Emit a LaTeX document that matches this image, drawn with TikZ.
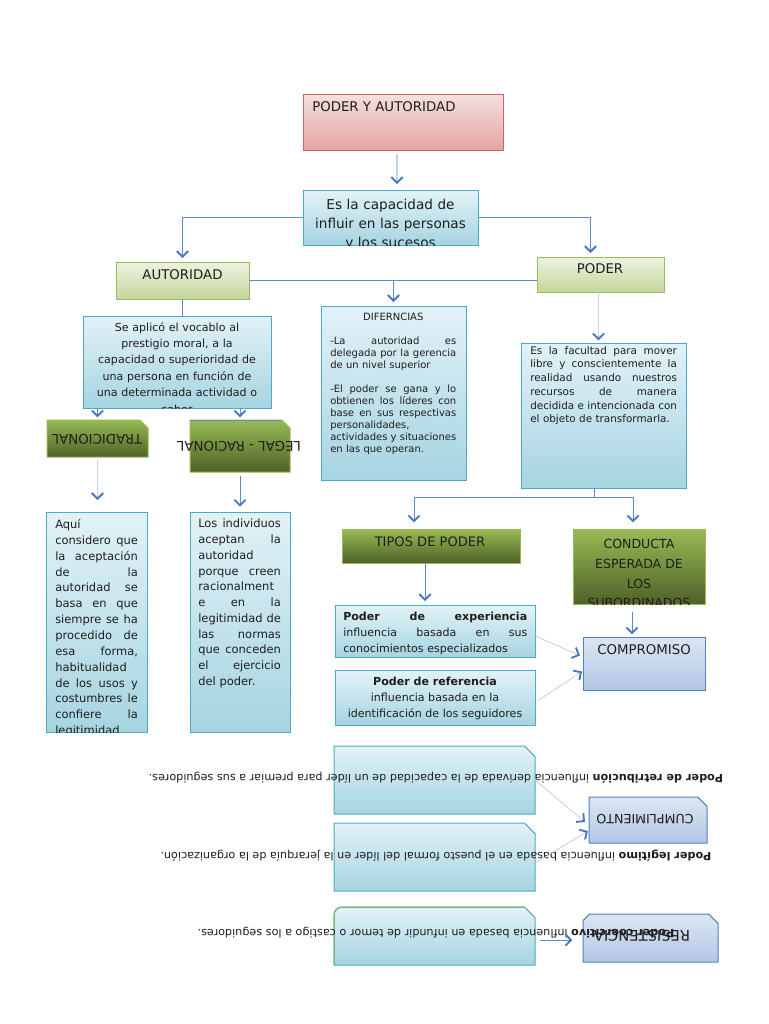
\documentclass[tikz,border=0pt]{standalone}
\usepackage{fontspec}
\setmainfont{DejaVu Sans}
\usetikzlibrary{arrows.meta,fit,shadows,calc}
\definecolor{lnblue}{HTML}{5E8AC7}
\definecolor{tipblue}{HTML}{4A78BE}
\definecolor{lightln}{HTML}{C3D3E9}
\definecolor{thinln}{HTML}{B4C6DC}
\definecolor{redT}{HTML}{F4E0DF}
\definecolor{redB}{HTML}{E3A4A2}
\definecolor{redD}{HTML}{CD6562}
\definecolor{cyT}{HTML}{E2F2F7}
\definecolor{cyB}{HTML}{A6D4E1}
\definecolor{cyD}{HTML}{4BACC6}
\definecolor{lgT}{HTML}{EEF3E2}
\definecolor{lgB}{HTML}{C3D69B}
\definecolor{lgD}{HTML}{9BBB59}
\definecolor{dgT}{HTML}{98BA55}
\definecolor{dgB}{HTML}{4F6228}
\definecolor{stT}{HTML}{DCE6F2}
\definecolor{stB}{HTML}{B3C6E5}
\definecolor{stD}{HTML}{4F81BD}
\definecolor{grn}{HTML}{77B255}
\definecolor{txt}{HTML}{1E1E1E}
\newlength\jw
\newcommand\J[1]{\makebox[\jw][s]{\spaceskip=.3em plus 1fil\relax #1}}
\newcommand\fs[2]{\fontsize{#1}{#2}\selectfont}
\newcommand\chamf[3]{\path[#2] (#1.south west) -- (#1.north west) -- ([xshift=-#3]#1.north east) -- ([yshift=-#3]#1.north east) -- (#1.south east) -- cycle;}
\tikzset{
 boxbase/.style={inner sep=0pt, outer sep=0pt, line width=0.75pt},
 holdbox/.style={inner sep=0pt, outer sep=0pt},
 redbox/.style={boxbase, top color=redT, bottom color=redB, draw=redD},
 cybox/.style={boxbase, top color=cyT, bottom color=cyB, draw=cyD},
 lgbox/.style={boxbase, top color=lgT, bottom color=lgB, draw=lgD},
 dgbox/.style={boxbase, top color=dgT, bottom color=dgB, draw=dgT},
 stbox/.style={boxbase, top color=stT, bottom color=stB, draw=stD},
 shd/.style={drop shadow={shadow xshift=1.1pt, shadow yshift=-1.1pt, fill=black, opacity=0.7}},
 lshd/.style={drop shadow={shadow xshift=0.6pt, shadow yshift=-0.8pt, fill=black, opacity=0.35}},
 conn/.style={draw=lnblue, line width=0.75pt},
 tipd/.style={-{Straight Barb[length=4.2pt,width=8.5pt,line width=1.4pt,color=tipblue]}},
 arr/.style={conn, tipd},
 larr/.style={draw=lightln, line width=0.9pt, tipd},
 tarr/.style={draw=thinln, line width=0.45pt, tipd},
 hdr/.style={font=\fs{10}{12}, inner sep=0pt},
 rot/.style={rotate=180, inner sep=0pt},
 para/.style={inner sep=0pt, align=left},
}
\begin{document}
\begin{tikzpicture}[x=0.75pt,y=-0.75pt, every node/.append style={text=txt}]
\useasboundingbox (0,0) rectangle (768,1024);
\fill[white] (0,0) rectangle (768,1024);

% ---------- boxes ----------
\node[redbox, fit={(303,95) (503,150)}] (pya) {};
\node[cybox, lshd, fit={(303,190) (478,245)}] (cap) {};
\node[lgbox, fit={(116,262) (249,299)}] (auto) {};
\node[lgbox, lshd, fit={(537,257) (664,292)}] (pod) {};
\node[cybox, fit={(83,316) (271,408)}] (sea) {};
\node[cybox, fit={(321,306) (466,480)}] (dif) {};
\node[cybox, shd, fit={(521,343) (686,488)}] (fac) {};
\node[holdbox, fit={(47,420) (148,457)}] (trad) {};
\chamf{trad}{dgbox}{6pt}
\node[holdbox, fit={(190,420) (290,472)}] (leg) {};
\chamf{leg}{dgbox}{6pt}
\draw[conn] (leg.north west) -- ([xshift=-7pt]leg.north east);
\node[cybox, fit={(46,512) (147,732)}] (aqui) {};
\node[cybox, fit={(190,512) (290,732)}] (indiv) {};
\node[dgbox, shd, fit={(342,529) (520,563)}] (tipos) {};
\node[dgbox, lshd, fit={(573,529) (705,604)}] (cond) {};
\node[cybox, shd, fit={(335,605) (535,657)}] (exp) {};
\node[cybox, shd, fit={(335,670) (535,725)}] (refe) {};
\node[stbox, lshd, fit={(583,637) (705,690)}] (comp) {};
\node[holdbox, fit={(334,746) (535,814)}] (ret) {};
\chamf{ret}{cybox}{8pt}
\node[holdbox, fit={(334,823) (535,891)}] (legit) {};
\chamf{legit}{cybox}{8pt}
\node[holdbox, fit={(589,797) (707,843)}] (cump) {};
\chamf{cump}{stbox}{7pt}
\node[holdbox, fit={(334,907) (535,965)}] (coe) {};
\path[cybox] (coe.south west) -- ([yshift=-6pt]coe.north west) to[out=90,in=180] ([xshift=6pt]coe.north west) -- ([xshift=-8pt]coe.north east) -- ([yshift=-8pt]coe.north east) -- (coe.south east) -- cycle;
\draw[grn, line width=0.75pt] (coe.south west) -- ([yshift=-6pt]coe.north west) to[out=90,in=180] ([xshift=6pt]coe.north west) -- ([xshift=-8pt]coe.north east);
\node[holdbox, fit={(583,914) (718,962)}] (res) {};
\path[stbox] (res.south west) -- ([yshift=-5pt]res.north west) -- ([xshift=5pt]res.north west) -- ([xshift=-7pt]res.north east) -- ([yshift=-7pt]res.north east) -- (res.south east) -- cycle;

% ---------- texts ----------
\node[hdr, anchor=base west] (pyaT) at (312,112) {PODER Y AUTORIDAD};
\begin{scope}
\clip (cap.south west) rectangle (cap.north east);
\node[inner sep=0pt, anchor=north, text width=130pt, align=center, font=\fs{10.2}{14.2}] (capT) at (390.5,199) {Es la capacidad de\\influir en las personas\\y los sucesos};
\end{scope}
\node[hdr, anchor=base] (autoT) at (182.5,279) {AUTORIDAD};
\node[hdr, anchor=base] (podT) at (600,273) {PODER};
\begin{scope}
\clip (sea.south west) rectangle (sea.north east);
\node[inner sep=0pt, anchor=north, text width=138pt, align=center, font=\fs{8.3}{12.3}] (seaT) at (177,322) {Se aplicó el vocablo al\\prestigio moral, a la\\capacidad o superioridad de\\una persona en función de\\una determinada actividad o\\saber};
\end{scope}
\node[para, anchor=north west, text width=94.5pt, font=\fs{7.5}{9}] (difT) at (330,313) {\setlength\jw{94.5pt}\makebox[\jw]{DIFERNCIAS}\\[9pt]
\J{-La autoridad es}\\
\J{delegada por la gerencia}\\
de un nivel superior\\[9pt]
\J{-El poder se gana y lo}\\
\J{obtienen los líderes con}\\
\J{base en sus respectivas}\\
personalidades,\\
\J{actividades y situaciones}\\
en las que operan.};
\node[para, anchor=north west, text width=110pt, font=\fs{7.8}{10.3}] (facT) at (530,346) {\setlength\jw{110pt}\J{Es la facultad para mover}\\
\J{libre y conscientemente la}\\
\J{realidad usando nuestros}\\
\J{recursos de manera}\\
\J{decidida e intencionada con}\\
el objeto de transformarla.};
\node[rot, font=\fs{10}{12}] (tradT) at (97,439) {TRADICIONAL};
\node[rot, font=\fs{10}{12}] (legT) at (239,446) {LEGAL - RACIONAL};
\begin{scope}
\clip (aqui.south west) rectangle (aqui.north east);
\node[para, anchor=north west, text width=62pt, font=\fs{8.6}{11.9}] (aquiT) at (55,519) {\setlength\jw{62pt}Aquí\\
\J{considero que}\\
\J{la aceptación}\\
\J{de la}\\
\J{autoridad se}\\
\J{basa en que}\\
\J{siempre se ha}\\
\J{procedido de}\\
\J{esa forma,}\\
habitualidad\\
\J{de los usos y}\\
\J{costumbres le}\\
\J{confiere la}\\
legitimidad};
\end{scope}
\node[para, anchor=north west, text width=62pt, font=\fs{8.6}{11.8}] (indivT) at (198,519) {\setlength\jw{62pt}\J{Los individuos}\\
\J{aceptan la}\\
autoridad\\
\J{porque creen}\\
racionalment\\
\J{e en la}\\
\J{legitimidad de}\\
\J{las normas}\\
\J{que conceden}\\
\J{el ejercicio}\\
del poder.};
\node[hdr, anchor=base, font=\fs{9.8}{12}] (tiposT) at (430,546) {TIPOS DE PODER};
\begin{scope}
\clip (cond.south west) rectangle (cond.north east);
\node[inner sep=0pt, anchor=north, align=center, font=\fs{9.4}{14.8}] (condT) at (639,539) {CONDUCTA\\ESPERADA DE\\LOS\\SUBORDINADOS};
\end{scope}
\begin{scope}
\clip (exp.south west) rectangle (exp.north east);
\node[para, anchor=north west, text width=138pt, font=\fs{8.3}{12}] (expT) at (343,612) {\setlength\jw{138pt}\J{\textbf{Poder de experiencia}}\\
\J{influencia basada en sus}\\
conocimientos especializados};
\end{scope}
\node[inner sep=0pt, anchor=north, align=center, font=\fs{8.3}{12}] (refT) at (435,677) {\textbf{Poder de referencia}\\influencia basada en la\\identificación de los seguidores};
\node[hdr, anchor=base] (compT) at (644,654) {COMPROMISO};
\node[rot, font=\fs{8.4}{9}] (retT) at (436,778) {\textbf{Poder de retribución} influencia derivada de la capacidad de un líder para premiar a sus seguidores.};
\node[rot, font=\fs{8.4}{9}] (legitT) at (436,856) {\textbf{Poder legítimo} influencia basada en el puesto formal del líder en la jerarquía de la organización.};
\node[rot, font=\fs{9.5}{12}] (cumpT) at (645,819) {CUMPLIMIENTO};
\node[rot, font=\fs{11}{12}] (resT) at (642,936) {RESISTENCIA};
\node[rot, font=\fs{8.4}{9}] (coeT) at (436,933) {\textbf{Poder coercitivo} influencia basada en infundir de temor o castigo a los seguidores.};

% ---------- connectors ----------
\draw[larr] ($(pya.south)+(-6,4)$) -- ($(cap.north -| pya.south)+(-6,-6)$);
\draw[arr, shorten >=3pt] (cap.west) -| (auto.north);
\draw[arr, shorten >=3pt] (cap.east) -| ($(pod.north)+(-10,0)$);
\draw[conn] (auto.east) -- (auto.east -| pod.west);
\coordinate (dj) at (auto.east -| dif.north);
\draw[arr, shorten >=3pt] (dj) -- (dif.north);
\draw[conn] (auto.south) -- (auto.south |- sea.north);
\draw[arr, shorten >=2pt] (trad.north |- sea.south) -- (trad.north);
\draw[arr, shorten >=2pt] (leg.north |- sea.south) -- (leg.north);
\draw[larr, shorten <=2pt, shorten >=9pt] (trad.south) -- (trad.south |- aqui.north);
\draw[arr, shorten <=3pt, shorten >=4pt] (leg.south) -- (leg.south |- indiv.north);
\draw[larr, shorten >=2pt] ($(pod.south)+(-2,0)$) -- ($(pod.south |- fac.north)+(-2,0)$);
\coordinate (fj) at ($(fac.south)+(-9,9)$);
\draw[conn] ($(fac.south)+(-9,0)$) -- (fj);
\draw[arr, shorten >=5pt] (fj) -| ($(tipos.north)+(-17,0)$);
\draw[arr, shorten >=5pt] (fj) -| ($(cond.north)+(-6,0)$);
\draw[arr, shorten >=3pt] ($(tipos.south)+(-6,0)$) -- ($(tipos.south |- exp.north)+(-6,0)$);
\draw[arr, shorten <=6pt, shorten >=2pt] ($(cond.south)+(-7,0)$) -- ($(cond.south |- comp.north)+(-7,0)$);
\draw[tarr] ($(exp.east)+(0,5)$) -- ($(comp.west)+(-3,-8)$);
\draw[tarr] ($(refe.east)+(3,3)$) -- ($(comp.west)+(-1,8)$);
\draw[tarr] (ret.east) -- ($(cump.west)+(-4,2)$);
\draw[tarr] ($(legit.east)+(0,6)$) -- ($(cump.west)+(-1,11)$);
\draw[arr, shorten <=4pt, shorten >=8pt] ($(coe.east)+(0,4)$) -- ($(res.west)+(0,2)$);
\end{tikzpicture}
\end{document}
